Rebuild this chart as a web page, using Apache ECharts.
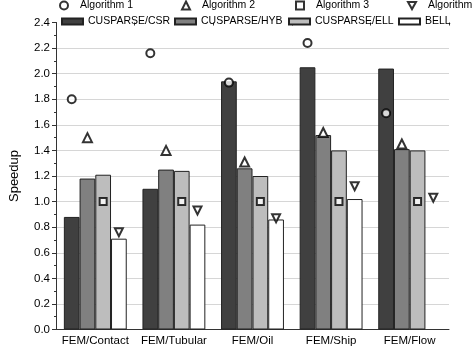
<!DOCTYPE html>
<html>
<head>
<meta charset="utf-8">
<script src="https://cdn.jsdelivr.net/npm/echarts@6/dist/echarts.min.js"></script>
<style>
  html, body { margin: 0; padding: 0; background: #fff; }
  #chart { width: 474px; height: 351px; }
</style>
</head>
<body>
<div id="chart"></div>
<script>
var categories = ["FEM/Contact", "FEM/Tubular", "FEM/Oil", "FEM/Ship", "FEM/Flow"];
var yTicks = [0, 0.2, 0.4, 0.6, 0.8, 1.0, 1.2, 1.4, 1.6, 1.8, 2.0, 2.2, 2.4];

var csr = [0.88, 1.10, 1.94, 2.05, 2.04];
var hyb = [1.18, 1.25, 1.26, 1.52, 1.41];
var ell = [1.21, 1.24, 1.20, 1.40, 1.40];
var bell = [0.71, 0.82, 0.86, 1.02, null];

var alg1 = [1.80, 2.16, 1.93, 2.24, 1.69];
var alg2 = [1.50, 1.40, 1.31, 1.54, 1.45];
var alg3 = [1.00, 1.00, 1.00, 1.00, 1.00];
var alg4 = [0.76, 0.93, 0.87, 1.12, 1.03];

var chart = echarts.init(document.getElementById("chart"));
var font = "Liberation Sans, Arial, sans-serif";
var downTri = "path://M0,0L10,0L5,9Z";

// markers sit over the matching bar in each group (4 bars, 20% gap)
function pts(vals, slot) {
  var off = -0.3 + slot * 0.2;
  return vals.map(function (v, i) { return [i + 0.5 + off, v]; });
}

function bar(name, data, color) {
  return {
    name: name, type: "bar", data: data,
    barGap: "0%", barCategoryGap: "20%",
    itemStyle: { color: color, borderColor: "#222", borderWidth: 1 }
  };
}

function mark(name, data, slot, symbol, size) {
  return {
    name: name, type: "scatter", xAxisIndex: 1,
    data: pts(data, slot),
    symbol: symbol, symbolSize: size,
    itemStyle: { color: "#fff", borderColor: "#000", borderWidth: 2 },
    z: 5
  };
}

function legBar(name, left) {
  return {
    data: [name], left: left, top: 16, padding: 0, icon: "rect",
    itemWidth: 21, itemHeight: 6, selectedMode: false,
    textStyle: { fontSize: 10.5, color: "#000", fontFamily: font }
  };
}

function legMark(name, left) {
  return {
    data: [name], left: left, top: 0, padding: 0,
    itemWidth: 8, itemHeight: 8, selectedMode: false,
    itemStyle: { borderWidth: 2 },
    textStyle: { fontSize: 10.5, color: "#000", fontFamily: font, padding: [0, 0, 0, 7] }
  };
}

chart.setOption({
  animation: false,
  textStyle: { fontFamily: font },
  legend: [
    legMark("Algorithm 1", 59),
    legMark("Algorithm 2", 181),
    legMark("Algorithm 3", 295),
    legMark("Algorithm 4", 407),
    legBar("CUSPARSE/CSR", 61),
    legBar("CUSPARSE/HYB", 174),
    legBar("CUSPARSE/ELL", 288),
    legBar("BELL", 398)
  ],
  grid: { left: 45, right: 25, top: 22.5, bottom: 21.5 },
  xAxis: [
    {
      type: "category",
      data: categories,
      axisLine: { lineStyle: { color: "#333" } },
      axisTick: { alignWithLabel: true, length: 5, lineStyle: { color: "#333" } },
      axisLabel: { interval: 0, fontSize: 11.5, color: "#000", margin: 5 }
    },
    {
      type: "value", min: 0, max: 5, interval: 1,
      axisLine: { show: false },
      axisTick: { show: true, inside: true, length: 3, lineStyle: { color: "#333" } },
      axisLabel: { show: false },
      splitLine: { show: false }
    }
  ],
  yAxis: {
    type: "value",
    min: yTicks[0], max: yTicks[yTicks.length - 1], interval: 0.2,
    name: "Speedup", nameLocation: "middle", nameGap: 35,
    nameTextStyle: { fontSize: 13, color: "#000" },
    axisLine: { show: true, lineStyle: { color: "#333" } },
    axisTick: { show: true, length: 4, lineStyle: { color: "#333" } },
    minorTick: { show: true, splitNumber: 2, length: 2, lineStyle: { color: "#333" } },
    axisLabel: {
      fontSize: 11.5, color: "#000", margin: 6,
      formatter: function (v) { return v.toFixed(1); }
    },
    splitLine: { show: true, showMaxLine: false, lineStyle: { color: "#d6d6d6" } }
  },
  series: [
    bar("CUSPARSE/CSR", csr, "#404040"),
    bar("CUSPARSE/HYB", hyb, "#808080"),
    bar("CUSPARSE/ELL", ell, "#bdbdbd"),
    bar("BELL", bell, "#ffffff"),
    mark("Algorithm 1", alg1, 0, "circle", 8),
    mark("Algorithm 2", alg2, 1, "triangle", 9),
    mark("Algorithm 3", alg3, 2, "rect", 7),
    mark("Algorithm 4", alg4, 3, downTri, 8)
  ]
});
</script>
</body>
</html>
